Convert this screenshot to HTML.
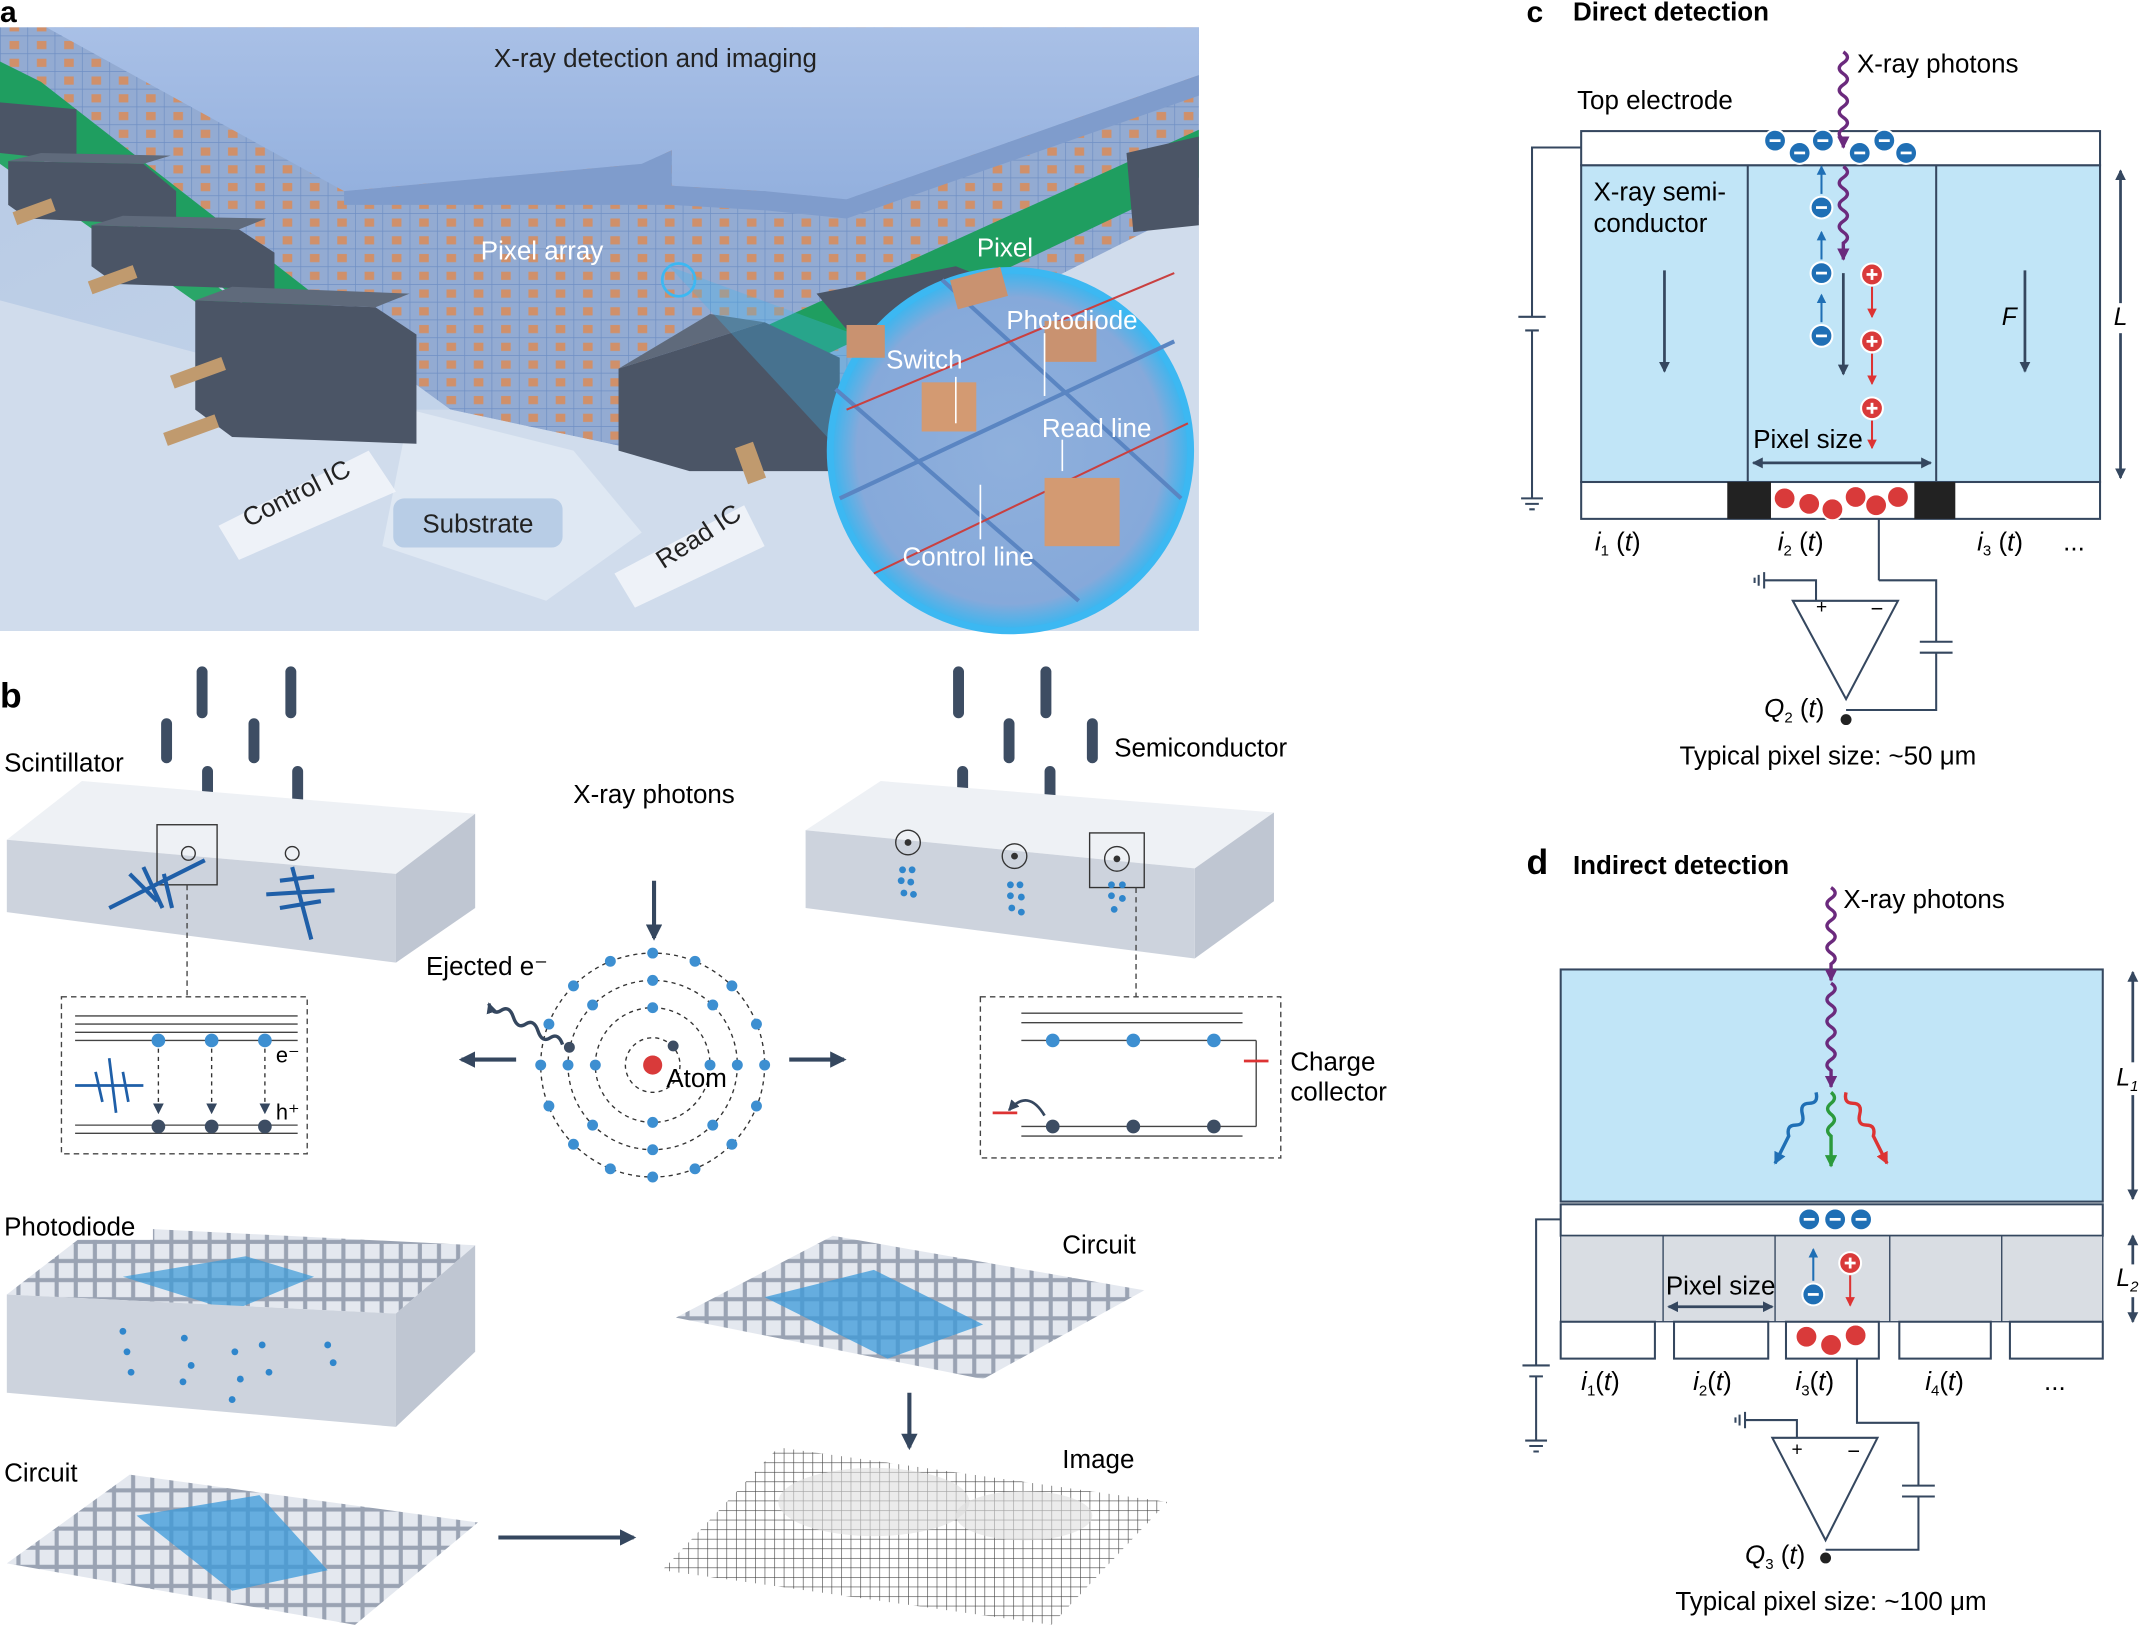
<!DOCTYPE html>
<html><head><meta charset="utf-8"><style>
html,body{margin:0;padding:0;background:#fff}
svg{display:block}
text{font-family:"Liberation Sans",sans-serif;}
</style></head><body>
<svg width="2141" height="1644" viewBox="0 0 1568 1204" xmlns="http://www.w3.org/2000/svg">
<defs>
<linearGradient id="bgA" x1="0" y1="0" x2="1" y2="1"><stop offset="0" stop-color="#b6c9e4"/><stop offset="0.6" stop-color="#c5d5ea"/><stop offset="1" stop-color="#e4ecf5"/></linearGradient>
<linearGradient id="slab" x1="0" y1="0" x2="0" y2="1"><stop offset="0" stop-color="#a9c0e6"/><stop offset="1" stop-color="#93b0de"/></linearGradient>
<radialGradient id="lens" cx="0.5" cy="0.5" r="0.5"><stop offset="0" stop-color="#8fb0dc"/><stop offset="0.85" stop-color="#86a9da"/><stop offset="1" stop-color="#38b6f0"/></radialGradient>
<pattern id="grid" width="20" height="13" patternUnits="userSpaceOnUse"><rect width="20" height="13" fill="#93abd2"/><path d="M0 0H20M0 0V13" stroke="#6f8fc4" stroke-width="1"/><rect x="7" y="4" width="7" height="6" fill="#d0906a"/></pattern>
<pattern id="blk" width="14" height="14" patternUnits="userSpaceOnUse"><rect width="14" height="14" fill="#9aa3b3"/><rect x="1" y="1" width="11" height="11" fill="#e4e8ef"/></pattern>
<pattern id="mesh" width="7" height="7" patternUnits="userSpaceOnUse"><rect width="7" height="7" fill="#fff"/><path d="M0 0H7M0 0V7" stroke="#444" stroke-width="0.9"/></pattern>
<marker id="ah" markerUnits="userSpaceOnUse" markerWidth="12" markerHeight="12" refX="10" refY="6" orient="auto"><path d="M0,0 L12,6 L0,12z" fill="#35475f"/></marker>
<marker id="ahs" markerUnits="userSpaceOnUse" markerWidth="8" markerHeight="8" refX="7" refY="4" orient="auto"><path d="M0,0 L8,4 L0,8z" fill="#35475f"/></marker>
<marker id="ahd" markerUnits="userSpaceOnUse" markerWidth="8" markerHeight="8" refX="7" refY="4" orient="auto-start-reverse"><path d="M0,0 L8,4 L0,8z" fill="#35475f"/></marker>
<marker id="ahr" markerUnits="userSpaceOnUse" markerWidth="7" markerHeight="7" refX="6" refY="3.5" orient="auto"><path d="M0,0 L7,3.5 L0,7z" fill="#d33"/></marker>
<marker id="ahb" markerUnits="userSpaceOnUse" markerWidth="7" markerHeight="7" refX="6" refY="3.5" orient="auto"><path d="M0,0 L7,3.5 L0,7z" fill="#1f6fb5"/></marker>
<marker id="ahp" markerUnits="userSpaceOnUse" markerWidth="9" markerHeight="9" refX="8" refY="4.5" orient="auto"><path d="M0,0 L9,4.5 L0,9z" fill="#6b2a7d"/></marker>
<marker id="ahg" markerUnits="userSpaceOnUse" markerWidth="9" markerHeight="9" refX="8" refY="4.5" orient="auto"><path d="M0,0 L9,4.5 L0,9z" fill="#2c9a3c"/></marker>
<marker id="ahb2" markerUnits="userSpaceOnUse" markerWidth="9" markerHeight="9" refX="8" refY="4.5" orient="auto"><path d="M0,0 L9,4.5 L0,9z" fill="#1f6fb5"/></marker>
<marker id="ahr2" markerUnits="userSpaceOnUse" markerWidth="9" markerHeight="9" refX="8" refY="4.5" orient="auto"><path d="M0,0 L9,4.5 L0,9z" fill="#d33"/></marker>
</defs>

<!-- Panel a -->
<text x="0" y="16" font-size="22" font-weight="bold">a</text>
<rect x="0" y="20" width="878" height="442" fill="url(#bgA)"/>
<!-- pixel grid region -->
<polygon points="0,20 878,20 878,150 600,290 470,330 330,300 0,60" fill="url(#grid)"/>
<!-- green bands -->
<polygon points="0,45 30,60 300,270 300,300 270,290 0,90" fill="#1f9e60"/>
<polygon points="0,95 270,290 255,300 0,120" fill="#2aa668"/>
<polygon points="878,95 878,130 520,300 460,300 470,280" fill="#1f9e60"/>
<!-- substrate front -->
<polygon points="0,220 300,300 330,300 470,330 600,290 878,150 878,462 0,462" fill="#d0dcec"/>
<polygon points="300,300 420,330 470,390 400,440 280,400" fill="#dfe8f3"/>
<!-- top slab -->
<polygon points="34,20 878,20 878,55 620,146 560,140 492,136 492,110 470,120 252,140" fill="url(#slab)"/>
<polygon points="252,140 470,120 492,110 492,136 560,140 620,146 878,55 878,70 620,160 560,154 492,150 252,150" fill="#7f9ccc"/>
<text x="480" y="49" font-size="19" fill="#222" text-anchor="middle">X-ray detection and imaging</text>
<!-- control ICs -->
<g fill="#4b5566">
<polygon points="0,75 56,80 56,118 0,112"/>
<polygon points="6,118 105,120 129,140 129,165 20,160 6,150"/>
<polygon points="67,165 175,168 201,185 201,212 85,208 67,195"/>
<polygon points="143,220 275,225 305,245 305,325 170,320 143,300"/>
<polygon points="453,270 560,236 615,262 615,345 505,345 453,330"/>
<polygon points="598,215 700,195 738,210 738,260 640,265"/>
<polygon points="825,112 878,100 878,165 830,170"/>
</g>
<g fill="#5f6a7b"><polygon points="143,220 170,210 300,215 275,225"/><polygon points="67,165 90,158 195,160 175,168"/><polygon points="6,118 30,112 125,114 105,120"/><polygon points="453,270 520,230 560,236"/></g>
<g fill="#c09a6e"><rect x="120" y="310" width="40" height="10" transform="rotate(-20 140 315)"/><rect x="65" y="200" width="35" height="10" transform="rotate(-20 82 205)"/><rect x="10" y="150" width="30" height="10" transform="rotate(-20 25 155)"/><rect x="125" y="268" width="40" height="10" transform="rotate(-20 145 273)"/><rect x="543" y="325" width="14" height="28" transform="rotate(-20 550 340)"/></g>
<g fill="#f3f6fa" opacity="0.85"><polygon points="160,385 270,330 290,360 175,410"/><polygon points="450,420 545,370 560,400 465,445"/></g>
<text x="220" y="367" font-size="19" fill="#222" transform="rotate(-27 220 367)" text-anchor="middle">Control IC</text>
<text x="515" y="398" font-size="19" fill="#222" transform="rotate(-33 515 398)" text-anchor="middle">Read IC</text>
<rect x="288" y="365" width="124" height="36" rx="8" fill="#b8cde6"/>
<text x="350" y="390" font-size="19" fill="#222" text-anchor="middle">Substrate</text>
<text x="397" y="190" font-size="19" fill="#fff" text-anchor="middle">Pixel array</text>
<text x="736" y="188" font-size="19" fill="#fff" text-anchor="middle">Pixel</text>
<!-- lens -->
<polygon points="490,195 640,250 615,330" fill="#3eb5ef" opacity="0.3"/>
<circle cx="497" cy="205" r="12" fill="none" stroke="#3cb8f2" stroke-width="2"/>
<circle cx="740" cy="330" r="132" fill="url(#lens)" stroke="#3cb8f2" stroke-width="5"/>
<g stroke="#5a85c2" stroke-width="3"><line x1="612" y1="285" x2="790" y2="440"/><line x1="690" y1="205" x2="865" y2="365"/><line x1="615" y1="365" x2="860" y2="250"/></g>
<g stroke="#c94040" stroke-width="1.5"><line x1="620" y1="300" x2="860" y2="200"/><line x1="640" y1="420" x2="870" y2="310"/></g>
<rect x="698" y="200" width="38" height="22" fill="#c99270" transform="rotate(-15 717 211)"/>
<rect x="765" y="235" width="38" height="30" fill="#c99270"/>
<rect x="675" y="280" width="40" height="36" fill="#d39a72"/>
<rect x="765" y="350" width="55" height="50" fill="#d39a72"/>
<rect x="620" y="238" width="28" height="24" fill="#c99270"/>
<g stroke="#fff" stroke-width="1.2"><line x1="700" y1="276" x2="700" y2="310"/><line x1="765" y1="244" x2="765" y2="290"/><line x1="778" y1="322" x2="778" y2="345"/><line x1="718" y1="355" x2="718" y2="395"/></g>
<g font-size="19" fill="#fff"><text x="649" y="270">Switch</text><text x="737" y="241">Photodiode</text><text x="763" y="320">Read line</text><text x="661" y="414">Control line</text></g>

<!-- Panel b -->
<text x="0" y="518" font-size="26" font-weight="bold">b</text>
<text x="3" y="565" font-size="19">Scintillator</text>
<g stroke="#3d4d63" stroke-width="8" stroke-linecap="round">
<line x1="148" y1="492" x2="148" y2="522"/><line x1="213" y1="492" x2="213" y2="522"/><line x1="122" y1="530" x2="122" y2="555"/><line x1="186" y1="530" x2="186" y2="555"/><line x1="152" y1="565" x2="152" y2="590"/><line x1="218" y1="565" x2="218" y2="590"/>
<line x1="702" y1="492" x2="702" y2="522"/><line x1="766" y1="492" x2="766" y2="522"/><line x1="739" y1="530" x2="739" y2="555"/><line x1="800" y1="530" x2="800" y2="555"/><line x1="705" y1="565" x2="705" y2="592"/><line x1="769" y1="565" x2="769" y2="592"/>
</g>
<polygon points="5,615 60,572 348,596 290,640" fill="#eef1f5"/>
<polygon points="290,640 348,596 348,665 290,705" fill="#bfc6d2"/>
<polygon points="5,615 290,640 290,705 5,668" fill="#cdd3dd"/>
<rect x="115" y="604" width="44" height="44" fill="none" stroke="#333"/>
<circle cx="138" cy="625" r="5" fill="none" stroke="#333"/><circle cx="214" cy="625" r="5" fill="none" stroke="#333"/>
<path d="M80,665 L150,630 M95,640 l20,20 M105,635 l14,30 M120,640 l6,25" stroke="#1f5fa8" stroke-width="3"/>
<path d="M195,655 L245,652 M214,635 L228,688 M205,645 l25,-3 M205,665 l30,-5" stroke="#1f5fa8" stroke-width="3"/>
<line x1="137" y1="648" x2="137" y2="730" stroke="#444" stroke-dasharray="4 3"/>
<rect x="45" y="730" width="180" height="115" fill="none" stroke="#444" stroke-dasharray="4 3"/>
<g stroke="#444"><line x1="55" y1="744" x2="218" y2="744"/><line x1="55" y1="750" x2="218" y2="750"/><line x1="55" y1="756" x2="218" y2="756"/><line x1="55" y1="762" x2="218" y2="762"/><line x1="55" y1="824" x2="218" y2="824"/><line x1="55" y1="830" x2="218" y2="830"/></g>
<g fill="#3d8fd1"><circle cx="116" cy="762" r="5"/><circle cx="155" cy="762" r="5"/><circle cx="194" cy="762" r="5"/></g>
<g fill="#3d4d63"><circle cx="116" cy="825" r="5"/><circle cx="155" cy="825" r="5"/><circle cx="194" cy="825" r="5"/></g>
<g stroke="#333" stroke-dasharray="3 3"><line x1="116" y1="768" x2="116" y2="815" marker-end="url(#ahs)"/><line x1="155" y1="768" x2="155" y2="815" marker-end="url(#ahs)"/><line x1="194" y1="768" x2="194" y2="815" marker-end="url(#ahs)"/></g>
<path d="M55,795 L105,795 M70,785 l5,22 M80,775 l5,40 M90,785 l4,22" stroke="#1f5fa8" stroke-width="2"/>
<text x="202" y="778" font-size="16">e⁻</text><text x="202" y="820" font-size="16">h⁺</text>

<text x="479" y="588" font-size="19" text-anchor="middle">X-ray photons</text>
<line x1="479" y1="645" x2="479" y2="687" stroke="#35475f" stroke-width="3" marker-end="url(#ah)"/>
<g fill="none" stroke="#333" stroke-dasharray="3 3"><circle cx="478" cy="780" r="20"/><circle cx="478" cy="780" r="42"/><circle cx="478" cy="780" r="62"/><circle cx="478" cy="780" r="82"/></g>
<circle cx="478" cy="780" r="7" fill="#d93a3a"/><circle cx="493" cy="766" r="4" fill="#3d4d63"/>
<g fill="#3d8fd1">
<circle cx="478" cy="738" r="4"/><circle cx="478" cy="822" r="4"/><circle cx="436" cy="780" r="4"/><circle cx="520" cy="780" r="4"/>
<circle cx="478" cy="718" r="4"/><circle cx="478" cy="842" r="4"/><circle cx="416" cy="780" r="4"/><circle cx="540" cy="780" r="4"/><circle cx="434" cy="736" r="4"/><circle cx="522" cy="736" r="4"/><circle cx="434" cy="824" r="4"/><circle cx="522" cy="824" r="4"/>
<circle cx="478" cy="698" r="4"/><circle cx="478" cy="862" r="4"/><circle cx="396" cy="780" r="4"/><circle cx="560" cy="780" r="4"/><circle cx="420" cy="722" r="4"/><circle cx="536" cy="722" r="4"/><circle cx="420" cy="838" r="4"/><circle cx="536" cy="838" r="4"/><circle cx="447" cy="704" r="4"/><circle cx="509" cy="704" r="4"/><circle cx="447" cy="856" r="4"/><circle cx="509" cy="856" r="4"/><circle cx="402" cy="750" r="4"/><circle cx="554" cy="750" r="4"/><circle cx="402" cy="810" r="4"/><circle cx="554" cy="810" r="4"/>
</g>
<circle cx="417" cy="767" r="4" fill="#3d4d63"/>
<path d="M412,765 q-3,-9 -9,-5 q-6,4 -9,-5 q-3,-9 -9,-5 q-6,4 -9,-5 q-3,-9 -9,-5 q-6,4 -9,-5" fill="none" stroke="#35475f" stroke-width="2.5" marker-end="url(#ahs)"/>
<text x="312" y="714" font-size="19">Ejected e⁻</text>
<text x="488" y="796" font-size="19">Atom</text>
<line x1="378" y1="776" x2="338" y2="776" stroke="#35475f" stroke-width="3" marker-end="url(#ah)"/>
<line x1="578" y1="776" x2="618" y2="776" stroke="#35475f" stroke-width="3" marker-end="url(#ah)"/>

<text x="816" y="554" font-size="19">Semiconductor</text>
<polygon points="590,608 645,572 933,595 875,636" fill="#eef1f5"/>
<polygon points="875,636 933,595 933,660 875,702" fill="#bfc6d2"/>
<polygon points="590,608 875,636 875,702 590,665" fill="#cdd3dd"/>
<rect x="798" y="610" width="40" height="40" fill="none" stroke="#333"/>
<g fill="none" stroke="#333"><circle cx="665" cy="617" r="9"/><circle cx="743" cy="627" r="9"/><circle cx="818" cy="629" r="9"/></g>
<g fill="#333"><circle cx="665" cy="617" r="2.5"/><circle cx="743" cy="627" r="2.5"/><circle cx="818" cy="629" r="2.5"/></g>
<g fill="#2f86cc"><circle cx="661" cy="637" r="2.5"/><circle cx="668" cy="637" r="2.5"/><circle cx="660" cy="645" r="2.5"/><circle cx="667" cy="646" r="2.5"/><circle cx="662" cy="654" r="2.5"/><circle cx="669" cy="655" r="2.5"/>
<circle cx="740" cy="648" r="2.5"/><circle cx="747" cy="648" r="2.5"/><circle cx="740" cy="656" r="2.5"/><circle cx="748" cy="657" r="2.5"/><circle cx="741" cy="665" r="2.5"/><circle cx="748" cy="668" r="2.5"/>
<circle cx="814" cy="648" r="2.5"/><circle cx="822" cy="648" r="2.5"/><circle cx="814" cy="656" r="2.5"/><circle cx="822" cy="658" r="2.5"/><circle cx="816" cy="666" r="2.5"/></g>
<line x1="832" y1="650" x2="832" y2="730" stroke="#444" stroke-dasharray="4 3"/>
<rect x="718" y="730" width="220" height="118" fill="none" stroke="#444" stroke-dasharray="4 3"/>
<g stroke="#444"><line x1="748" y1="742" x2="910" y2="742"/><line x1="748" y1="749" x2="910" y2="749"/><line x1="748" y1="762" x2="920" y2="762"/><line x1="920" y1="762" x2="920" y2="825"/><line x1="748" y1="825" x2="920" y2="825"/><line x1="748" y1="832" x2="910" y2="832"/></g>
<g fill="#3d8fd1"><circle cx="771" cy="762" r="5"/><circle cx="830" cy="762" r="5"/><circle cx="889" cy="762" r="5"/></g>
<g fill="#3d4d63"><circle cx="771" cy="825" r="5"/><circle cx="830" cy="825" r="5"/><circle cx="889" cy="825" r="5"/></g>
<line x1="911" y1="777" x2="929" y2="777" stroke="#d33" stroke-width="2"/><line x1="727" y1="815" x2="745" y2="815" stroke="#d33" stroke-width="2"/>
<path d="M765,817 q-12,-20 -26,-4" fill="none" stroke="#35475f" stroke-width="2" marker-end="url(#ahs)"/>
<text x="945" y="784" font-size="19">Charge</text><text x="945" y="806" font-size="19">collector</text>

<!-- b bottom -->
<polygon points="5,948 70,898 348,912 290,962" fill="url(#blk)"/>
<polygon points="90,935 180,920 230,935 170,960" fill="#3b9ad9" opacity="0.7"/>
<polygon points="5,948 290,962 290,1045 5,1020" fill="#cdd3dd"/>
<polygon points="290,962 348,912 348,990 290,1045" fill="#bfc6d2"/>
<rect x="0" y="884" width="112" height="24" fill="#fff"/>
<text x="3" y="905" font-size="19">Photodiode</text>
<g fill="#2f86cc"><circle cx="90" cy="975" r="2.5"/><circle cx="93" cy="990" r="2.5"/><circle cx="96" cy="1005" r="2.5"/><circle cx="135" cy="980" r="2.5"/><circle cx="140" cy="1000" r="2.5"/><circle cx="134" cy="1012" r="2.5"/><circle cx="172" cy="990" r="2.5"/><circle cx="176" cy="1010" r="2.5"/><circle cx="170" cy="1025" r="2.5"/><circle cx="192" cy="985" r="2.5"/><circle cx="197" cy="1005" r="2.5"/><circle cx="240" cy="985" r="2.5"/><circle cx="244" cy="998" r="2.5"/></g>
<text x="3" y="1085" font-size="19">Circuit</text>
<polygon points="5,1145 95,1080 350,1115 260,1190" fill="url(#blk)"/>
<polygon points="100,1110 190,1095 240,1150 170,1165" fill="#3b9ad9" opacity="0.75"/>
<line x1="365" y1="1126" x2="464" y2="1126" stroke="#35475f" stroke-width="3" marker-end="url(#ah)"/>
<text x="778" y="918" font-size="19">Circuit</text>
<polygon points="495,965 610,905 838,945 720,1010" fill="url(#blk)"/>
<polygon points="560,950 640,930 720,970 650,995" fill="#3b9ad9" opacity="0.75"/>
<line x1="666" y1="1020" x2="666" y2="1060" stroke="#35475f" stroke-width="3" marker-end="url(#ah)"/>
<text x="778" y="1075" font-size="19">Image</text>
<polygon points="485,1150 570,1060 855,1100 770,1190" fill="url(#mesh)"/>
<ellipse cx="640" cy="1100" rx="70" ry="25" fill="#ddd" opacity="0.6"/><ellipse cx="750" cy="1110" rx="50" ry="18" fill="#ddd" opacity="0.6"/>

<!-- Panel c -->
<text x="1118" y="16" font-size="22" font-weight="bold">c</text>
<text x="1152" y="15" font-size="19" font-weight="bold">Direct detection</text>
<text x="1360" y="53" font-size="19">X-ray photons</text>
<text x="1155" y="80" font-size="19">Top electrode</text>
<rect x="1158" y="121" width="380" height="232" fill="#c1e5f7" stroke="#35475f" stroke-width="1.5"/>
<rect x="1158" y="96" width="380" height="25" fill="#fff" stroke="#35475f" stroke-width="1.5"/>
<line x1="1280" y1="121" x2="1280" y2="353" stroke="#35475f" stroke-width="1.5"/><line x1="1418" y1="121" x2="1418" y2="353" stroke="#35475f" stroke-width="1.5"/>
<rect x="1158" y="353" width="380" height="27" fill="#fff" stroke="#35475f" stroke-width="1.5"/>
<rect x="1265" y="353" width="32" height="27" fill="#222"/><rect x="1402" y="353" width="30" height="27" fill="#222"/>
<text x="1167" y="147" font-size="19">X-ray semi-</text><text x="1167" y="170" font-size="19">conductor</text>
<line x1="1219" y1="198" x2="1219" y2="272" stroke="#35475f" stroke-width="2" marker-end="url(#ahs)"/>
<line x1="1483" y1="198" x2="1483" y2="272" stroke="#35475f" stroke-width="2" marker-end="url(#ahs)"/>
<line x1="1350" y1="200" x2="1350" y2="274" stroke="#35475f" stroke-width="2" marker-end="url(#ahs)"/>
<text x="1466" y="238" font-size="18" font-style="italic">F</text>
<line x1="1553" y1="125" x2="1553" y2="350" stroke="#35475f" stroke-width="2" marker-start="url(#ahd)" marker-end="url(#ahd)"/>
<rect x="1545" y="222" width="16" height="22" fill="#fff"/>
<text x="1548" y="238" font-size="18" font-style="italic">L</text>
<path d="M1350,38 q6,4 0,8 q-6,4 0,8 q6,4 0,8 q-6,4 0,8 q6,4 0,8 q-6,4 0,8 q6,4 0,8 q-6,4 0,8 l0,6" fill="none" stroke="#6b2a7d" stroke-width="2.5" marker-end="url(#ahp)"/>
<path d="M1350,122 q6,4 0,8 q-6,4 0,8 q6,4 0,8 q-6,4 0,8 q6,4 0,8 q-6,4 0,8 q6,4 0,8 l0,12" fill="none" stroke="#6b2a7d" stroke-width="2.5" marker-end="url(#ahp)"/>
<g fill="#1f6fb5" stroke="#fff" stroke-width="1.5"><circle cx="1300" cy="103" r="8"/><circle cx="1318" cy="112" r="8"/><circle cx="1335" cy="103" r="8"/><circle cx="1362" cy="112" r="8"/><circle cx="1380" cy="103" r="8"/><circle cx="1396" cy="112" r="8"/><circle cx="1334" cy="152" r="8"/><circle cx="1334" cy="200" r="8"/><circle cx="1334" cy="246" r="8"/></g>
<g fill="#fff"><rect x="1296" y="102" width="8" height="2"/><rect x="1314" y="111" width="8" height="2"/><rect x="1331" y="102" width="8" height="2"/><rect x="1358" y="111" width="8" height="2"/><rect x="1376" y="102" width="8" height="2"/><rect x="1392" y="111" width="8" height="2"/><rect x="1330" y="151" width="8" height="2"/><rect x="1330" y="199" width="8" height="2"/><rect x="1330" y="245" width="8" height="2"/></g>
<g stroke="#1f6fb5" stroke-width="1.5"><line x1="1334" y1="142" x2="1334" y2="122" marker-end="url(#ahb)"/><line x1="1334" y1="190" x2="1334" y2="170" marker-end="url(#ahb)"/><line x1="1334" y1="236" x2="1334" y2="216" marker-end="url(#ahb)"/></g>
<g fill="#d93a3a" stroke="#fff" stroke-width="1.5"><circle cx="1371" cy="201" r="8"/><circle cx="1371" cy="250" r="8"/><circle cx="1371" cy="299" r="8"/><circle cx="1307" cy="365" r="8"/><circle cx="1325" cy="369" r="8"/><circle cx="1342" cy="373" r="8"/><circle cx="1359" cy="364" r="8"/><circle cx="1374" cy="370" r="8"/><circle cx="1390" cy="364" r="8"/></g>
<g fill="#fff"><rect x="1367" y="200" width="8" height="2"/><rect x="1370" y="197" width="2" height="8"/><rect x="1367" y="249" width="8" height="2"/><rect x="1370" y="246" width="2" height="8"/><rect x="1367" y="298" width="8" height="2"/><rect x="1370" y="295" width="2" height="8"/></g>
<g stroke="#d33" stroke-width="1.5"><line x1="1371" y1="210" x2="1371" y2="232" marker-end="url(#ahr)"/><line x1="1371" y1="259" x2="1371" y2="281" marker-end="url(#ahr)"/><line x1="1371" y1="308" x2="1371" y2="328" marker-end="url(#ahr)"/></g>
<text x="1284" y="328" font-size="19">Pixel size</text>
<line x1="1284" y1="339" x2="1414" y2="339" stroke="#35475f" stroke-width="2" marker-start="url(#ahd)" marker-end="url(#ahd)"/>
<g font-size="19"><text x="1168" y="403"><tspan font-style="italic">i</tspan><tspan font-size="11" dy="4">1</tspan><tspan dy="-4"> (</tspan><tspan font-style="italic">t</tspan>)</text><text x="1302" y="403"><tspan font-style="italic">i</tspan><tspan font-size="11" dy="4">2</tspan><tspan dy="-4"> (</tspan><tspan font-style="italic">t</tspan>)</text><text x="1448" y="403"><tspan font-style="italic">i</tspan><tspan font-size="11" dy="4">3</tspan><tspan dy="-4"> (</tspan><tspan font-style="italic">t</tspan>)</text><text x="1511" y="403">...</text></g>
<g stroke="#35475f" stroke-width="1.5" fill="none">
<path d="M1158,108 H1122 V232 M1112,232 H1132 M1117,242 H1127 M1122,242 V365 M1114,365 H1130 M1117,369 H1127 M1120,373 H1124"/>
<path d="M1376,380 V425 M1376,425 H1418 V470 M1406,470 H1430 M1406,478 H1430 M1418,478 V520 H1352"/>
<polygon points="1313,440 1390,440 1352,512"/>
<path d="M1330,440 V425 H1292 M1292,419 V431 M1288,421 V429 M1285,423 V427"/>
</g>
<circle cx="1352" cy="527" r="4" fill="#222"/>
<text x="1330" y="449" font-size="14">+</text><text x="1370" y="451" font-size="16">−</text>
<text x="1292" y="525" font-size="19"><tspan font-style="italic">Q</tspan><tspan font-size="11" dy="4">2</tspan><tspan dy="-4"> (</tspan><tspan font-style="italic">t</tspan>)</text>
<text x="1230" y="560" font-size="19">Typical pixel size: ~50 μm</text>

<!-- Panel d -->
<text x="1118" y="640" font-size="26" font-weight="bold">d</text>
<text x="1152" y="640" font-size="19" font-weight="bold">Indirect detection</text>
<text x="1350" y="665" font-size="19">X-ray photons</text>
<rect x="1143" y="710" width="397" height="170" fill="#c1e5f7" stroke="#35475f" stroke-width="1.5"/>
<rect x="1143" y="882" width="397" height="23" fill="#fff" stroke="#35475f" stroke-width="1.5"/>
<rect x="1143" y="905" width="397" height="63" fill="#d9dde3" stroke="#35475f" stroke-width="1"/>
<g stroke="#35475f" stroke-width="1"><line x1="1218" y1="905" x2="1218" y2="968"/><line x1="1300" y1="905" x2="1300" y2="968"/><line x1="1384" y1="905" x2="1384" y2="968"/><line x1="1466" y1="905" x2="1466" y2="968"/></g>
<g fill="#fff" stroke="#35475f" stroke-width="1.5"><rect x="1143" y="968" width="69" height="27"/><rect x="1226" y="968" width="69" height="27"/><rect x="1308" y="968" width="68" height="27"/><rect x="1391" y="968" width="67" height="27"/><rect x="1472" y="968" width="68" height="27"/></g>
<path d="M1341,650 q6,4 0,8 q-6,4 0,8 q6,4 0,8 q-6,4 0,8 q6,4 0,8 q-6,4 0,8 q6,4 0,8 l0,12" fill="none" stroke="#6b2a7d" stroke-width="2.5" marker-end="url(#ahp)"/>
<path d="M1341,720 q6,4 0,8 q-6,4 0,8 q6,4 0,8 q-6,4 0,8 q6,4 0,8 q-6,4 0,8 q6,4 0,8 q-6,4 0,8 l0,12" fill="none" stroke="#6b2a7d" stroke-width="2.5" marker-end="url(#ahp)"/>
<path d="M1341,800 q5,4 0,8 q-5,4 0,8 q5,4 0,8 q-5,4 0,8 l0,22" fill="none" stroke="#2c9a3c" stroke-width="2.5" marker-end="url(#ahg)"/>
<path d="M1330,800 q2,8 -5,8 q-7,0 -5,8 q2,8 -5,8 q-7,0 -5,8 l-10,20" fill="none" stroke="#1f6fb5" stroke-width="2.5" marker-end="url(#ahb2)"/>
<path d="M1352,800 q-2,8 5,8 q7,0 5,8 q-2,8 5,8 q7,0 5,8 l10,20" fill="none" stroke="#d33" stroke-width="2.5" marker-end="url(#ahr2)"/>
<g fill="#1f6fb5" stroke="#fff" stroke-width="1.5"><circle cx="1325" cy="893" r="8"/><circle cx="1344" cy="893" r="8"/><circle cx="1363" cy="893" r="8"/><circle cx="1328" cy="948" r="8"/></g>
<g fill="#fff"><rect x="1321" y="892" width="8" height="2"/><rect x="1340" y="892" width="8" height="2"/><rect x="1359" y="892" width="8" height="2"/><rect x="1324" y="947" width="8" height="2"/></g>
<line x1="1328" y1="938" x2="1328" y2="915" stroke="#1f6fb5" stroke-width="1.5" marker-end="url(#ahb)"/>
<g fill="#d93a3a" stroke="#fff" stroke-width="1.5"><circle cx="1355" cy="925" r="8"/><circle cx="1323" cy="979" r="8"/><circle cx="1341" cy="985" r="8"/><circle cx="1359" cy="978" r="8"/></g>
<g fill="#fff"><rect x="1351" y="924" width="8" height="2"/><rect x="1354" y="921" width="2" height="8"/></g>
<line x1="1355" y1="934" x2="1355" y2="956" stroke="#d33" stroke-width="1.5" marker-end="url(#ahr)"/>
<text x="1220" y="948" font-size="19">Pixel size</text>
<line x1="1222" y1="957" x2="1298" y2="957" stroke="#35475f" stroke-width="2" marker-start="url(#ahd)" marker-end="url(#ahd)"/>
<line x1="1562" y1="712" x2="1562" y2="878" stroke="#35475f" stroke-width="2" marker-start="url(#ahd)" marker-end="url(#ahd)"/>
<rect x="1548" y="778" width="20" height="24" fill="#fff"/>
<text x="1550" y="795" font-size="18" font-style="italic">L<tspan font-size="11" dy="4">1</tspan></text>
<line x1="1562" y1="905" x2="1562" y2="968" stroke="#35475f" stroke-width="2" marker-start="url(#ahd)" marker-end="url(#ahd)"/>
<rect x="1548" y="926" width="20" height="24" fill="#fff"/>
<text x="1550" y="942" font-size="18" font-style="italic">L<tspan font-size="11" dy="4">2</tspan></text>
<g font-size="19"><text x="1158" y="1018"><tspan font-style="italic">i</tspan><tspan font-size="11" dy="4">1</tspan><tspan dy="-4">(</tspan><tspan font-style="italic">t</tspan>)</text><text x="1240" y="1018"><tspan font-style="italic">i</tspan><tspan font-size="11" dy="4">2</tspan><tspan dy="-4">(</tspan><tspan font-style="italic">t</tspan>)</text><text x="1315" y="1018"><tspan font-style="italic">i</tspan><tspan font-size="11" dy="4">3</tspan><tspan dy="-4">(</tspan><tspan font-style="italic">t</tspan>)</text><text x="1410" y="1018"><tspan font-style="italic">i</tspan><tspan font-size="11" dy="4">4</tspan><tspan dy="-4">(</tspan><tspan font-style="italic">t</tspan>)</text><text x="1497" y="1018">...</text></g>
<g stroke="#35475f" stroke-width="1.5" fill="none">
<path d="M1143,893 H1125 V1000 M1115,1000 H1135 M1120,1008 H1130 M1125,1008 V1055 M1117,1055 H1133 M1120,1059 H1130 M1123,1063 H1127"/>
<path d="M1360,995 V1042 H1405 V1088 M1393,1088 H1417 M1393,1096 H1417 M1405,1096 V1135 H1337"/>
<polygon points="1298,1053 1375,1053 1337,1128"/>
<path d="M1316,1053 V1040 H1278 M1278,1034 V1046 M1274,1036 V1044 M1271,1038 V1042"/>
</g>
<circle cx="1337" cy="1141" r="4" fill="#222"/>
<text x="1312" y="1066" font-size="14">+</text><text x="1353" y="1068" font-size="16">−</text>
<text x="1278" y="1145" font-size="19"><tspan font-style="italic">Q</tspan><tspan font-size="11" dy="4">3</tspan><tspan dy="-4"> (</tspan><tspan font-style="italic">t</tspan>)</text>
<text x="1227" y="1179" font-size="19">Typical pixel size: ~100 μm</text>
</svg>
</body></html>
